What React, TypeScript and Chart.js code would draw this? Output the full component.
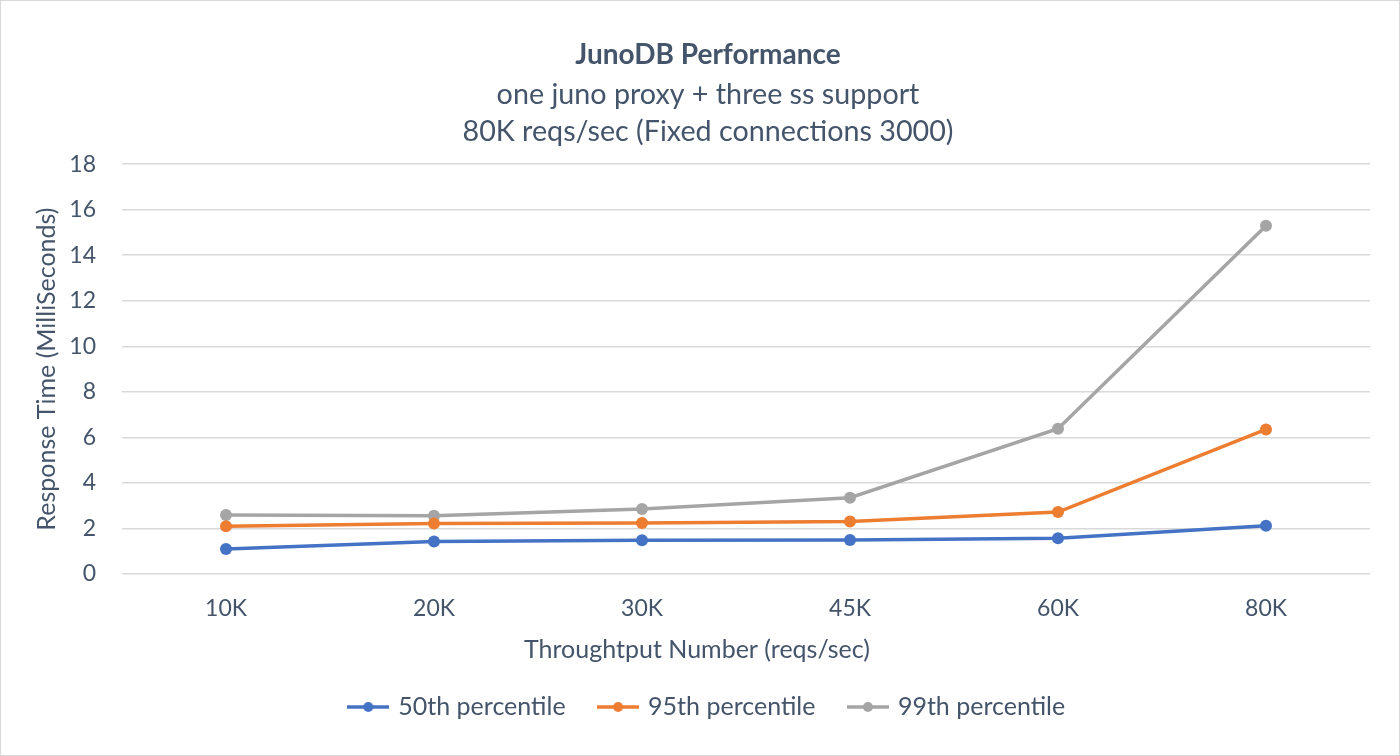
import React, { useEffect, useRef } from 'react';
import { Chart, registerables } from 'chart.js';

Chart.register(...registerables);

const categories = ['10K', '20K', '30K', '45K', '60K', '80K'];
const p50 = [1.1, 1.43, 1.48, 1.49, 1.57, 2.12];
const p95 = [2.1, 2.22, 2.24, 2.31, 2.72, 6.35];
const p99 = [2.59, 2.56, 2.85, 3.35, 6.38, 15.29];
const seriesNames = ['50th percentile', '95th percentile', '99th percentile'];
const titleText = 'JunoDB Performance';
const subtitleLines = ['one juno proxy + three ss support', '80K reqs/sec (Fixed connections 3000)'];
const yTitle = 'Response Time (MilliSeconds)';
const xTitle = 'Throughtput Number (reqs/sec)';

const FONT = 'Lato, "Open Sans", sans-serif';
const TEXT = '#44546a';
const GRID = '#d9d9d9';
const colors = ['#4472c4', '#ed7d31', '#a5a5a5'];

// line + dot swatch like Excel's legend
const makeSwatch = (color: string) => {
  const c = document.createElement('canvas');
  c.width = 42;
  c.height = 12;
  const g = c.getContext('2d')!;
  g.strokeStyle = color;
  g.lineWidth = 3.5;
  g.beginPath();
  g.moveTo(0, 6);
  g.lineTo(42, 6);
  g.stroke();
  g.fillStyle = color;
  g.beginPath();
  g.arc(21, 6, 5, 0, Math.PI * 2);
  g.fill();
  return c;
};

// x-axis title centred on the whole picture, not the plot area
const xTitlePlugin = {
  id: 'xTitleCentered',
  afterDraw(chart: any) {
    const { ctx, width } = chart;
    const x = chart.scales.x;
    ctx.save();
    ctx.font = `25px ${FONT}`;
    ctx.fillStyle = TEXT;
    ctx.textAlign = 'center';
    ctx.textBaseline = 'middle';
    ctx.fillText(xTitle, width / 2 - 3, x.top + 76);
    ctx.restore();
  },
};

export default function App() {
  const chartRef = useRef<HTMLCanvasElement>(null);
  const chartInstance = useRef<Chart | null>(null);

  useEffect(() => {
    if (!chartRef.current) return;
    if (chartInstance.current) chartInstance.current.destroy();

    const values = [p50, p95, p99];
    const swatches = colors.map(makeSwatch);

    chartInstance.current = new Chart(chartRef.current, {
      type: 'line',
      data: {
        labels: categories,
        datasets: values.map((data, i) => ({
          label: seriesNames[i],
          data,
          borderColor: colors[i],
          backgroundColor: colors[i],
          borderWidth: 3.5,
          pointRadius: 6,
          pointBorderWidth: 0,
          fill: false,
          tension: 0,
        })),
      },
      options: {
        responsive: true,
        maintainAspectRatio: false,
        animation: false,
        layout: { padding: { left: 16, right: 0, top: 0, bottom: 25.5 } },
        scales: {
          x: {
            offset: true,
            grid: { display: false, drawTicks: false },
            border: { display: false },
            ticks: { color: TEXT, font: { family: FONT, size: 23 }, padding: 21 },
            afterFit: (s: any) => { s.height = 85.5; },
          },
          y: {
            min: 0,
            max: 18,
            ticks: { stepSize: 2, color: TEXT, font: { family: FONT, size: 23 }, padding: 26 },
            grid: { color: GRID, lineWidth: 1.5, drawTicks: false },
            border: { display: false },
            title: {
              display: true,
              text: yTitle,
              color: TEXT,
              font: { family: FONT, size: 25 },
              padding: { top: 15, bottom: 0 },
            },
            afterFit: (s: any) => { s.width = 105; },
          },
          yPad: {
            position: 'right',
            display: true,
            grid: { display: false, drawTicks: false },
            border: { display: false },
            ticks: { display: false },
            afterFit: (s: any) => { s.width = 29; },
          },
        },
        plugins: {
          title: {
            display: true,
            text: titleText,
            color: TEXT,
            font: { family: FONT, size: 28, weight: 'bold', lineHeight: 1.2 },
            padding: { top: 37, bottom: 0 },
          },
          subtitle: {
            display: true,
            text: subtitleLines,
            color: TEXT,
            font: { family: FONT, size: 28.7, lineHeight: 1.29 },
            padding: { top: 5, bottom: 13.5 },
          },
          legend: {
            position: 'bottom',
            labels: {
              color: TEXT,
              font: { family: FONT, size: 25 },
              usePointStyle: true,
              pointStyleWidth: 35,
              padding: 35,
              generateLabels: (chart: any) =>
                Chart.defaults.plugins.legend.labels.generateLabels(chart).map((l: any, i: number) => ({
                  ...l,
                  pointStyle: swatches[i],
                })),
            },
          },
          tooltip: { enabled: false },
        },
      },
      plugins: [xTitlePlugin],
    });

    return () => {
      if (chartInstance.current) {
        chartInstance.current.destroy();
        chartInstance.current = null;
      }
    };
  }, []);

  return (
    <div
      style={{
        position: 'fixed',
        inset: 0,
        background: '#fff',
        border: '1px solid #d9d9d9',
        boxSizing: 'border-box',
      }}
    >
      <div style={{ position: 'relative', width: '100%', height: '100%' }}>
        <canvas ref={chartRef} />
      </div>
    </div>
  );
}
